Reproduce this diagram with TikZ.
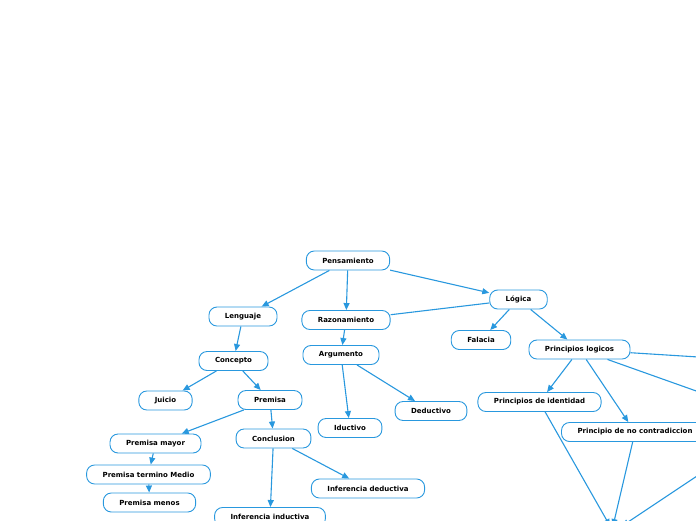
\documentclass[tikz,border=0pt]{standalone}
\usepackage{fontspec}
\newfontfamily\mapfont{DejaVu Sans}
\usetikzlibrary{arrows.meta}
\definecolor{mapblue}{RGB}{41,152,222}

\begin{document}
\begin{tikzpicture}[x=1pt,y=-1pt,
  box/.style={draw=mapblue,line width=0.9pt,fill=white,rounded corners=8pt,
    minimum height=19pt,inner xsep=16pt,inner ysep=0pt,
    font=\mapfont\bfseries\fontsize{7}{8}\selectfont},
  link/.style={draw=mapblue,line width=1.1pt,-{Triangle[length=7pt,width=6pt]}},
  plain/.style={draw=mapblue,line width=1.1pt}]
  \useasboundingbox (0,0) rectangle (696,520);
  \clip (0,0) rectangle (696,520);

  \node[box] (pens) at (348,260.5) {Pensamiento};
  \node[box] (logica) at (518.5,299.5) {Lógica};
  \node[box] (leng) at (243,316.5) {Lenguaje};
  \node[box] (razon) at (346,320) {Razonamiento};
  \node[box] (falacia) at (481,340) {Falacia};
  \node[box] (plog) at (579.5,349.5) {Principios logicos};
  \node[box] (concepto) at (233.5,361) {Concepto};
  \node[box] (argum) at (341,355) {Argumento};
  \node[box] (juicio) at (165.5,400.5) {Juicio};
  \node[box] (premisa) at (270,400) {Premisa};
  \node[box] (deduc) at (431,411) {Deductivo};
  \node[box] (pident) at (539.5,402) {Principios de identidad};
  \node[box] (induc) at (350,428) {Iductivo};
  \node[box] (pnocon) at (635,432) {Principio de no contradiccion};
  \node[box] (pmayor) at (155.5,443.5) {Premisa mayor};
  \node[box] (concl) at (273.5,438.5) {Conclusion};
  \node[box] (pmedio) at (148.5,474.5) {Premisa termino Medio};
  \node[box] (infded) at (368,488.5) {Inferencia deductiva};
  \node[box] (pmenos) at (149.5,502.5) {Premisa menos};
  \node[box] (infind) at (270,517) {Inferencia inductiva};

  % ends that lie outside the page
  \coordinate (outR1) at (730,359);
  \coordinate (outR2) at (730,403);
  \coordinate (outR3) at (730,454);
  \coordinate (outB1) at (610,526);
  \coordinate (outB2) at (613,526);
  \coordinate (outB3) at (622,526);

  \draw[link] (pens) -- (leng);
  \draw[link] (pens) -- (razon);
  \draw[link] (pens) -- (logica);
  \draw[plain] (logica) -- (razon);
  \draw[link] (logica) -- (falacia);
  \draw[link] (logica) -- (plog);
  \draw[link] (leng) -- (concepto);
  \draw[link] (razon) -- (argum);
  \draw[link] (concepto) -- (juicio);
  \draw[link] (concepto) -- (premisa);
  \draw[link] (argum) -- (induc);
  \draw[link] (argum) -- (deduc);
  \draw[link] (premisa) -- (pmayor);
  \draw[link] (premisa) -- (concl);
  \draw[link] (pmayor) -- (pmedio);
  \draw[link] (pmedio) -- (pmenos);
  \draw[link] (concl) -- (infind);
  \draw[link] (concl) -- (infded);
  \draw[link] (plog) -- (pident);
  \draw[link] (plog) -- (pnocon);
  \draw[plain] (plog) -- (outR1);
  \draw[plain] (plog) -- (outR2);
  \draw[link] (pident) -- (outB1);
  \draw[link] (pnocon) -- (outB2);
  \draw[link] (outR3) -- (outB3);
\end{tikzpicture}
\end{document}
